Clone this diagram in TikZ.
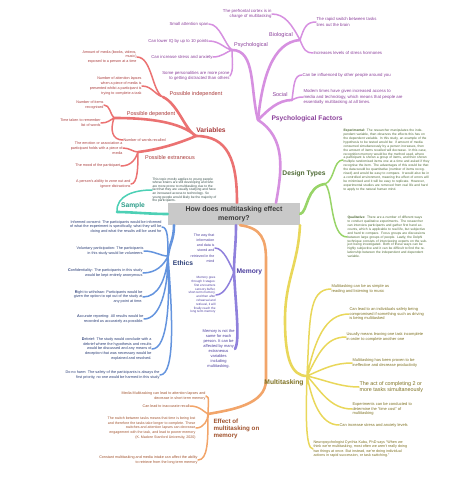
\documentclass[tikz,border=0pt]{standalone}
\usepackage{fontspec}
\setmainfont{Liberation Sans}

\definecolor{psyline}{HTML}{D690E0}
\definecolor{psytext}{HTML}{8A3F9A}
\definecolor{varline}{HTML}{EB7272}
\definecolor{vartext}{HTML}{A83A3A}
\definecolor{smpline}{HTML}{4DD0B5}
\definecolor{smptext}{HTML}{2A9C88}
\definecolor{ethline}{HTML}{6494DE}
\definecolor{ethtext}{HTML}{2C3F78}
\definecolor{memline}{HTML}{8F80DC}
\definecolor{memtext}{HTML}{4A3C9C}
\definecolor{effline}{HTML}{F2A56A}
\definecolor{efftext}{HTML}{A0522D}
\definecolor{mulline}{HTML}{E9D75A}
\definecolor{multext}{HTML}{7D7020}
\definecolor{desline}{HTML}{98D468}
\definecolor{destext}{HTML}{4E6A34}
\definecolor{boxgray}{HTML}{C9C9C9}
\definecolor{boxtext}{HTML}{3A3A3A}

\begin{document}
\begin{tikzpicture}[x=1pt, y=-1pt,
	every node/.style = {inner sep=0.3pt},
	centre/.style = {fill=boxgray, text=boxtext, align=center,
		minimum width=132pt, minimum height=22pt,
		font=\fontsize{7}{8.4}\selectfont\bfseries},
	topic/.style = {font=\fontsize{6.7}{7.6}\selectfont\bfseries},
	subtopic/.style = {font=\fontsize{5.5}{6.5}\selectfont},
	leafr/.style = {align=right},
	leafl/.style = {align=left},
	branch/.style = {line width=2.6pt, line cap=round},
	twig/.style = {line width=1.5pt, line cap=round},
	psyleaf/.style = {text=psytext, font=\fontsize{4.3}{5.2}\selectfont},
	varleaf/.style = {text=vartext, font=\fontsize{3.7}{4.7}\selectfont},
	ethleaf/.style = {text=ethtext, font=\fontsize{3.8}{4.8}\selectfont},
	memleaf/.style = {text=memtext, font=\fontsize{3.6}{5.2}\selectfont},
	effleaf/.style = {text=efftext, font=\fontsize{3.7}{4.7}\selectfont},
	mulleaf/.style = {text=multext, font=\fontsize{4}{4.9}\selectfont},
	desleaf/.style = {text=destext, font=\fontsize{3.3}{3.9}\selectfont}]
	
	\useasboundingbox (0,0) rectangle (474,477);
	
	% central question
	\node (q) [centre] at (234,214) {How does multitasking effect\\memory?};
	
	% psychological factors
	\coordinate (pfhub)  at (258,120);
	\coordinate (psyhub) at (232,50);
	\coordinate (biohub) at (300,40);
	\coordinate (sochub) at (292,100);
	\node (pf)   [topic, text=psytext, anchor=west] at (271,119) {Psychological Factors};
	\node (psy)  [subtopic, text=psytext] at (251,45) {Psychological};
	\node (bio)  [subtopic, text=psytext] at (281,35) {Biological};
	\node (soc)  [subtopic, text=psytext] at (280,95) {Social};
	\node (pref) [psyleaf, leafr, anchor=east] at (272,14) {The prefrontal cortex is in\\charge of multitasking};
	\node (rapid) [psyleaf, leafl, anchor=west] at (316,22) {The rapid switch between tasks\\tires out the brain};
	\node (horm) [psyleaf, leafl, anchor=west] at (313,53) {Increases levels of stress hormones};
	\node (span) [psyleaf, leafr, anchor=east] at (209,24) {Small attention span};
	\node (iq)   [psyleaf, leafr, anchor=east] at (209,41) {Can lower IQ by up to 10 points};
	\node (anx)  [psyleaf, leafr, anchor=east] at (213,57) {Can increase stress and anxiety};
	\node (prone) [psyleaf, leafr, anchor=east] at (230,76) {Some personalities are more prone\\to getting distracted than others};
	\node (infl) [psyleaf, leafl, anchor=west] at (302,75) {Can be influenced by other people around you};
	\node (modern) [psyleaf, leafl, anchor=west] at (303,97) {Modern times have given increased access to\\media and technology, which means that people are\\essentially multitasking at all times.};
	
	\draw [branch, psyline] ([xshift=42pt]q.north) .. controls (282,170) and (286,138) .. (pfhub);
	\draw [branch, psyline] (pfhub) .. controls (250,90) and (256,50) .. (psyhub);
	\draw [branch, psyline] (pfhub) .. controls (262,80) and (272,42) .. (biohub);
	\draw [branch, psyline] (pfhub) .. controls (268,110) and (278,100) .. (sochub);
	\draw [twig, psyline]
	(pref.east) .. controls (285,14) and (292,25) .. (biohub)
	(biohub) .. controls (304,28) and (306,22) .. (rapid.west)
	(biohub) .. controls (304,50) and (306,53) .. (horm.west)
	(span.east) .. controls (220,24) and (225,45) .. (psyhub)
	(iq.east) .. controls (220,41) and (225,49) .. (psyhub)
	(anx.east) .. controls (222,57) and (226,52) .. (psyhub)
	(prone.east) .. controls (234,70) and (232,60) .. (psyhub)
	(sochub) .. controls (294,85) and (294,75) .. (infl.west)
	(sochub) .. controls (296,98) and (298,97) .. (modern.west);
	
	% variables
	\coordinate (varhub) at (196,136);
	\coordinate (pihub)  at (163,97);
	\coordinate (pdhub)  at (114,118);
	\coordinate (pehub)  at (138,152);
	\node (var) [topic, text=vartext] at (211,130) {Variables};
	\node (pind) [subtopic, text=vartext] at (196,94) {Possible independent};
	\node (pdep) [subtopic, text=vartext] at (151,114) {Possible dependent};
	\node (pext) [subtopic, text=vartext] at (170,158) {Possible extraneous};
	\node (amount) [varleaf, leafr, anchor=east] at (137,57) {Amount of media (books, videos,\\music)\\exposed to a person at a time};
	\node (lapses) [varleaf, leafr, anchor=east] at (142,86) {Number of attention lapses\\when a piece of media is\\presented whilst a participant is\\trying to complete a task};
	\node (items) [varleaf, leafr, anchor=east] at (104,105) {Number of items\\recognised};
	\node (timew) [varleaf, leafr, anchor=east] at (101,123) {Time taken to remember\\list of words};
	\node (words) [varleaf, leafl, anchor=west] at (123,140) {Number of words recalled};
	\node (emotion) [varleaf, leafr, anchor=east] at (123,148) {The emotion or association a\\participant holds with a piece of\\media};
	\node (mood) [varleaf, leafr, anchor=east] at (121,166) {The mood of the participant};
	\node (zone) [varleaf, leafr, anchor=east] at (131,184) {A person's ability to zone out and\\ignore distractions};
	
	\draw [branch, varline] ([xshift=3pt]q.north) .. controls (237,160) and (228,136) .. (varhub);
	\draw [branch, varline]
	(varhub) .. controls (185,130) and (178,104) .. (pihub)
	(varhub) .. controls (180,122) and (150,118) .. (pdhub)
	(varhub) .. controls (175,145) and (155,150) .. (pehub);
	\draw [twig, varline]
	(amount.east) .. controls (152,57) and (152,92) .. (pihub)
	(lapses.east) .. controls (152,86) and (155,95) .. (pihub)
	(items.east) .. controls (110,105) and (110,114) .. (pdhub)
	(timew.east) .. controls (108,123) and (110,120) .. (pdhub)
	(pdhub) .. controls (110,130) and (112,140) .. (words.west)
	(emotion.east) .. controls (130,148) and (133,152) .. (pehub)
	(mood.east) .. controls (132,166) and (136,158) .. (pehub)
	(zone.east) .. controls (138,184) and (138,165) .. (pehub);
	
	% sample
	\coordinate (samphub) at (117,212);
	\node (smp) [topic, text=smptext] at (133,206) {Sample};
	\node (young) [leafl, anchor=west, text=boxtext!80!smptext, font=\fontsize{3.3}{3.6}\selectfont] at (152,190) {This topic mostly applies to young people\\whose brains are still developing and who\\are more prone to multitasking due to the\\fact that they are usually studying and have\\an increased access to technology. So\\young people would likely be the majority of\\the participants.};
	\draw [branch, smpline] (q.west) .. controls (150,214) and (130,212) .. (samphub);
	\draw [twig, smpline] (samphub) .. controls (116,195) and (135,190) .. (young.west);
	
	% ethics
	\coordinate (ethhub) at (168,256);
	\node (eth) [topic, text=ethtext] at (183,263) {Ethics};
	\node (consent) [ethleaf, leafr, anchor=east] at (162,227) {Informed consent: The participants would be informed\\of what the experiment is specifically, what they will be\\doing and what the results will be used for};
	\node (volunt) [ethleaf, leafr, anchor=east] at (144,251) {Voluntary participation: The participants\\in this study would be volunteers.};
	\node (confid) [ethleaf, leafr, anchor=east] at (143,273) {\textbf{C}onfidentiality: The participants in this study\\would be kept entirely anonymous};
	\node (withdraw) [ethleaf, leafr, anchor=east] at (143,297) {\textbf{R}ight to withdraw: Participants would be\\given the option to opt out of the study at\\any point at time.};
	\node (accurate) [ethleaf, leafr, anchor=east] at (144,319) {\textbf{A}ccurate reporting: All results would be\\recorded as accurately as possible.};
	\node (debrief) [ethleaf, leafr, anchor=east] at (152,349) {\textbf{D}ebrief: The study would conclude with a\\debrief where the hypothesis and results\\would be discussed and any means of\\deception that was necessary would be\\explained and resolved.};
	\node (harm) [ethleaf, leafr, anchor=east] at (160,375) {Do no harm: The safety of the participants is always the\\first priority, no one would be harmed in this study};
	
	\draw [branch, ethline] ([xshift=-60pt]q.south) .. controls (174,240) and (169,245) .. (ethhub);
	\draw [twig, ethline]
	(consent.east) .. controls (168,227) and (168,240) .. (ethhub)
	(volunt.east) .. controls (155,251) and (160,256) .. (ethhub)
	(confid.east) .. controls (156,273) and (164,265) .. (ethhub)
	(withdraw.east) .. controls (158,297) and (166,280) .. (ethhub)
	(accurate.east) .. controls (160,319) and (168,290) .. (ethhub)
	(debrief.east) .. controls (168,349) and (170,300) .. (ethhub)
	(harm.east) .. controls (176,375) and (172,310) .. (ethhub);
	
	% memory
	\coordinate (memhub) at (234,272);
	\node (mem) [topic, text=memtext, anchor=west] at (236,272) {Memory};
	\node (way) [memleaf, leafr, anchor=east] at (215,248) {The way that\\information\\and data is\\stored and\\retrieved in the\\mind};
	\node (stages) [memleaf, leafr, anchor=east, font=\fontsize{3.1}{3.8}\selectfont] at (216,295) {Memory goes\\through 3 stages:\\first encounters\\sensory buffer,\\short-term memory,\\and then after\\rehearsal and\\retrieval, it will\\finally reach the\\long term memory};
	\node (notsame) [memleaf, align=center, anchor=east, font=\fontsize{4}{5}\selectfont] at (235,349) {Memory is not the\\same for each\\person. It can be\\affected by many\\extraneous\\variables\\including\\multitasking.};
	
	\draw [branch, memline] ([xshift=2pt]q.south) .. controls (236,245) and (234,255) .. (memhub);
	\draw [twig, memline]
	(way.east) .. controls (224,248) and (230,265) .. (memhub)
	(stages.east) .. controls (225,295) and (231,280) .. (memhub);
	\draw [branch, memline] (memhub) .. controls (236,310) and (240,340) .. (notsame.east);
	
	% effect of multitasking on memory
	\coordinate (effhub) at (208,414);
	\coordinate (orng1)  at (266,260);
	\coordinate (orng2)  at (266,380);
	\node (eff) [topic, text=efftext, align=left, anchor=north west, font=\fontsize{6.2}{7}\selectfont\bfseries] at (213,419) {Effect of\\multitasking on\\memory};
	\node (lapses2) [effleaf, leafr, anchor=east] at (206,396) {Media Multitasking can lead to attention lapses and\\decrease in short term memory};
	\node (recall) [effleaf, leafr, anchor=east] at (190,406) {Can lead to inaccurate recall};
	\node (switch) [effleaf, leafr, anchor=east, font=\fontsize{3.6}{4.6}\selectfont] at (196,428) {The switch between tasks means that time is being lost\\and therefore the tasks take longer to complete. These\\switches and attention lapses can decrease\\engagement with the task, and lead to poorer memory\\(K. Madore Stanford University, 2020)};
	\node (constant) [effleaf, leafr, anchor=east] at (198,460) {Constant multitasking and media intake can affect the ability\\to retrieve from the long term memory};
	
	\draw [branch, effline] ([xshift=6pt]q.south) .. controls (262,228) and (266,240) .. (orng1) -- (orng2) .. controls (266,405) and (230,410) .. (effhub);
	\draw [twig, effline]
	(lapses2.east) .. controls (210,396) and (208,405) .. (effhub)
	(recall.east) .. controls (200,406) and (204,412) .. (effhub)
	(switch.east) .. controls (204,428) and (208,420) .. (effhub)
	(constant.east) .. controls (208,460) and (208,440) .. (effhub);
	
	% multitasking
	\coordinate (multhub) at (307,376);
	\coordinate (ylw1)    at (285,320);
	\node (mult) [topic, text=multext] at (284,383) {Multitasking};
	\node (simple) [mulleaf, leafl, anchor=west] at (331,289) {Multitasking can be as simple as\\reading and listening to music};
	\node (safety) [mulleaf, leafl, anchor=west] at (349,314) {Can lead to an individuals safety being\\compromised if something such as driving\\is being multitasked};
	\node (leaving) [mulleaf, leafl, anchor=west] at (346,337) {Usually means leaving one task incomplete\\in order to complete another one};
	\node (proven) [mulleaf, leafl, anchor=west] at (352,363) {Multitasking has been proven to be\\ineffective and decrease productivity};
	\node (act) [leafl, anchor=west, text=multext, font=\fontsize{5.4}{6.8}\selectfont] at (359,387) {The act of completing 2 or\\more tasks simultaneously};
	\node (exper) [mulleaf, leafl, anchor=west] at (352,409) {Experiments can be conducted to\\determine the ``time cost'' of\\multitasking};
	\node (stress2) [mulleaf, leafl, anchor=west] at (339,425) {Can increase stress and anxiety levels};
	\node (kubu) [mulleaf, leafl, anchor=west, font=\fontsize{3.7}{4.5}\selectfont] at (313,449) {Neuropsychologist Cynthia Kubu, PhD says ``When we\\think we're multitasking, most often we aren't really doing\\two things at once. But instead, we're doing individual\\actions in rapid succession, or task switching.''};
	
	\draw [branch, mulline] ([xshift=66pt]q.south) .. controls (298,265) and (285,280) .. (ylw1) .. controls (285,360) and (292,376) .. (multhub);
	\draw [twig, mulline]
	(multhub) .. controls (310,320) and (308,289) .. (simple.west)
	(multhub) .. controls (315,340) and (325,314) .. (safety.west)
	(multhub) .. controls (318,355) and (325,337) .. (leaving.west)
	(multhub) .. controls (325,368) and (335,363) .. (proven.west)
	(multhub) .. controls (325,380) and (340,387) .. (act.west)
	(multhub) .. controls (320,390) and (330,409) .. (exper.west)
	(multhub) .. controls (312,400) and (320,425) .. (stress2.west)
	(multhub) .. controls (306,410) and (305,449) .. (kubu.west);
	
	% design types
	\coordinate (deshub) at (325,184);
	\node (des) [topic, text=destext] at (304,174) {Design Types};
	\node (expt) [desleaf, leafl, anchor=west, text width=87pt] at (343,160) {\textbf{Experimental:} The researcher manipulates the independent variable, then observes the effects this has on the dependent variable. In this study, an example of the hypothesis to be tested would be: if amount of media consumed simultaneously by a person increases, then the amount of items recalled will decrease. In this case, recognition memory would be the method used, where a participant is shown a group of items, and then shown multiple randomised items one at a time and asked if they recognise the item. The advantages of this would be that the data would be quantitative (number of items recognised) and would be easy to compare. It would also be in a controlled environment, meaning the effect of errors will be minimised and it will be easy to replicate. However, experimental studies are removed from real life and hard to apply to the natural human mind.};
	\node (qual) [desleaf, leafl, anchor=west, text width=80pt] at (347,237) {\textbf{Qualitative:} There are a number of different ways to conduct qualitative experiments. The researcher can interview participants and gather first hand accounts, which is applicable to real life, but subjective and hard to compare. Focus groups are discussions between large groups of people. Lastly, the Delphi technique consists of interviewing experts on the subject being investigated. Both of these ways can be highly subjective and it can be difficult to find the relationship between the independent and dependent variable.};
	
	\draw [branch, desline] (q.east) .. controls (308,212) and (306,186) .. (deshub);
	\draw [twig, desline]
	(deshub) .. controls (335,180) and (333,160) .. (expt.west)
	(deshub) .. controls (333,190) and (330,237) .. (qual.west);
\end{tikzpicture}
\end{document}
